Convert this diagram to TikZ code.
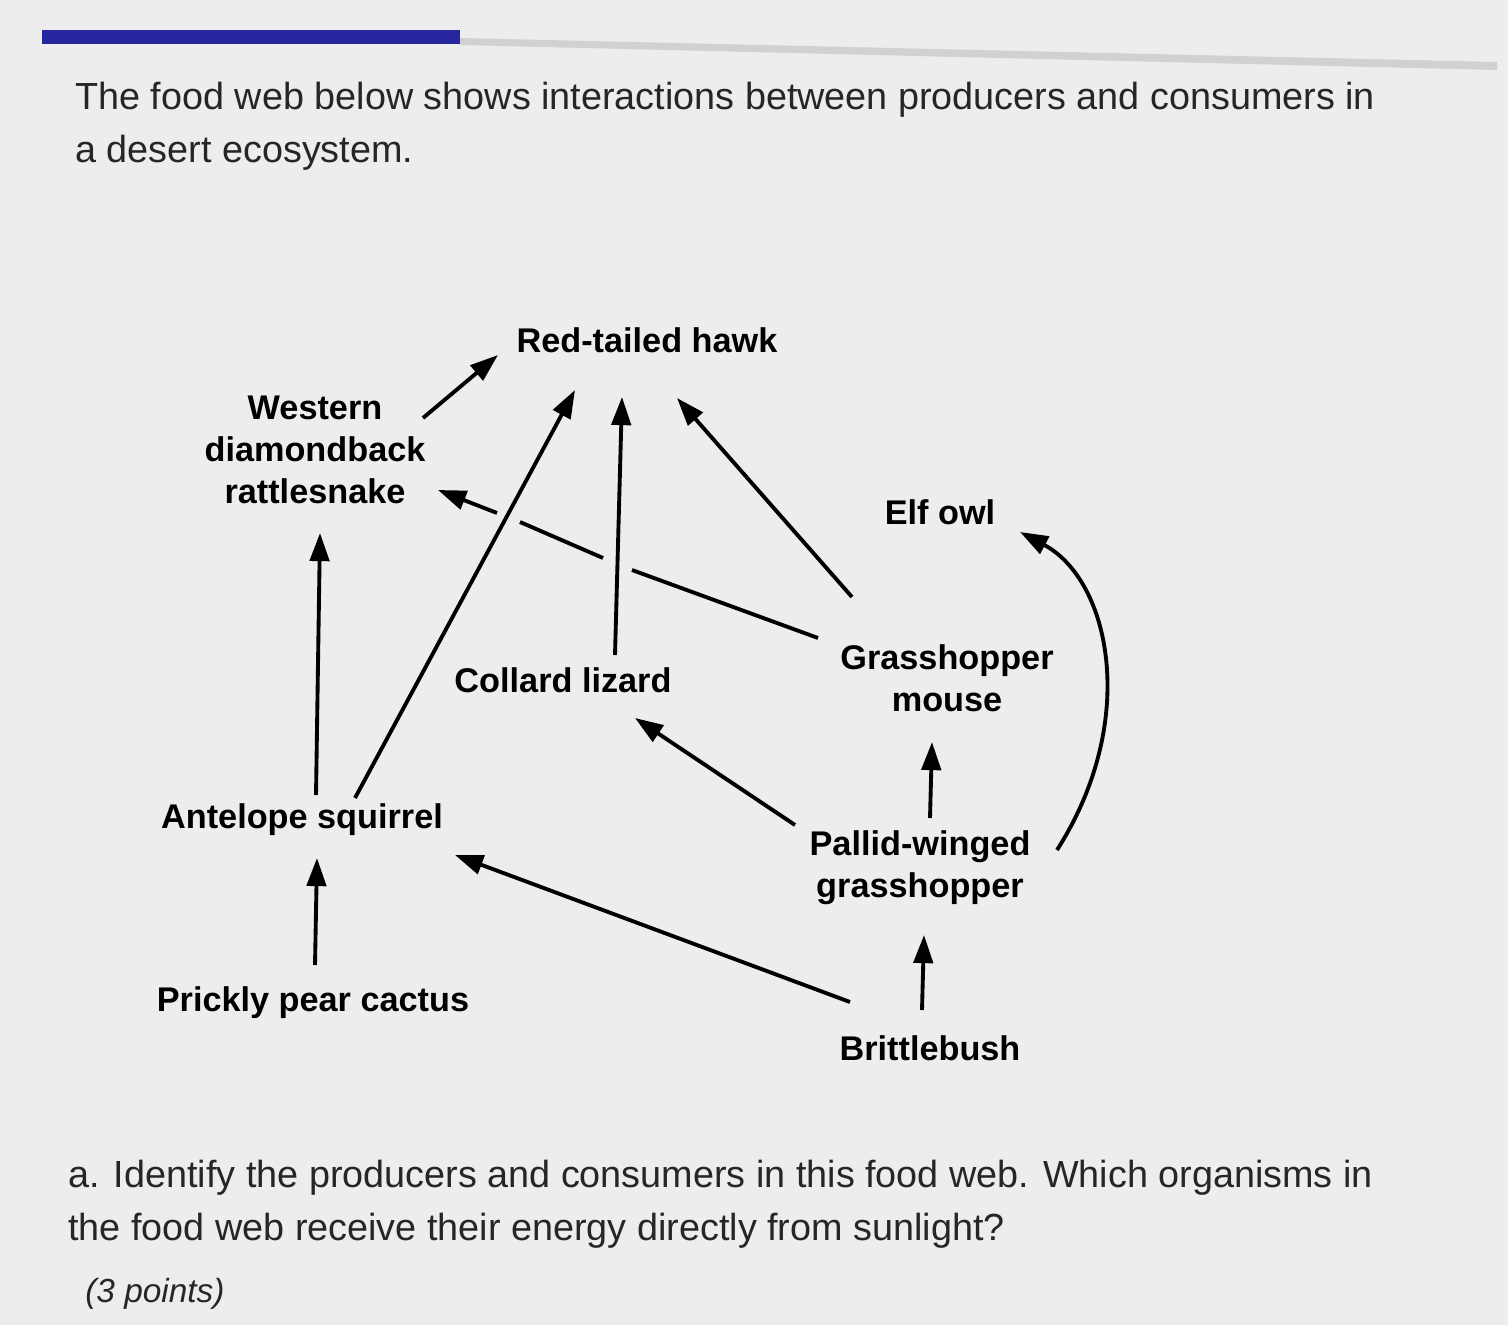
\documentclass[tikz,border=0pt]{standalone}
\usepackage{fontspec}
\setmainfont{Liberation Sans}
\usetikzlibrary{arrows.meta}
\begin{document}
\begin{tikzpicture}[x=0.02cm,y=-0.02cm,
  lbl/.style={font=\fontsize{19.5}{24}\selectfont\bfseries, align=center, inner sep=0pt},
  txt/.style={font=\fontsize{21.5}{30}\selectfont, align=left, anchor=north west, inner sep=0pt, text=black!85},
  arr/.style={-{Triangle[length=16pt,width=11pt]}, line width=2.2pt},
  seg/.style={line width=2.2pt}]
\fill[black!7] (0,0) rectangle (1508,1325);
\useasboundingbox (0,0) rectangle (1508,1325);
\fill[black!18] (460,38) -- (1497,62) -- (1497,70) -- (460,45) -- cycle;
\fill[blue!55!black!85] (42,30) rectangle (460,44);
% texts
\node[txt] (t1) at (75,82) {The food web below shows interactions between producers and consumers in\\a desert ecosystem.};
\node[txt] (t2) at (68,1160) {a. Identify the producers and consumers in this food web. Which organisms in\\the food web receive their energy directly from sunlight?};
\node[txt,font=\fontsize{19}{22}\selectfont\itshape] (t3) at (85,1278) {(3 points)};
% labels
\node[lbl] (hawk) at (647,340) {Red-tailed hawk};
\node[lbl] (snake) at (315,450) {Western\\diamondback\\rattlesnake};
\node[lbl] (owl) at (940,512) {Elf owl};
\node[lbl] (mouse) at (947,678) {Grasshopper\\mouse};
\node[lbl] (lizard) at (563,680) {Collard lizard};
\node[lbl] (squirrel) at (302,820) {Antelope squirrel};
\node[lbl] (pallid) at (920,868) {Pallid-winged\\grasshopper};
\node[lbl] (cactus) at (313,1003) {Prickly pear cactus};
\node[lbl] (brittle) at (930,1048) {Brittlebush};
% arrow end coordinates
\coordinate (a1) at (423,418); \coordinate (b1) at (498,355);
\coordinate (a2) at (355,798); \coordinate (b2) at (575,390);
\coordinate (a3) at (615,655); \coordinate (b3) at (622,397);
\coordinate (a4) at (852,597); \coordinate (b4) at (677,398);
\coordinate (a5) at (818,638); \coordinate (b5) at (438,490);
\coordinate (g1) at (632,570); \coordinate (g2) at (603,558);
\coordinate (g3) at (520,522); \coordinate (g4) at (497,513);
\coordinate (a6) at (1057,850); \coordinate (b6) at (1020,532);
\coordinate (a7) at (930,818); \coordinate (b7) at (932,742);
\coordinate (a8) at (795,825); \coordinate (b8) at (635,718);
\coordinate (a9) at (922,1010); \coordinate (b9) at (924,935);
\coordinate (a10) at (850,1002); \coordinate (b10) at (455,855);
\coordinate (a11) at (315,965); \coordinate (b11) at (317,858);
\coordinate (a12) at (316,795); \coordinate (b12) at (320,533);
\draw[arr] (a1) -- (b1);
\draw[arr] (a2) -- (b2);
\draw[arr] (a3) -- (b3);
\draw[arr] (a4) -- (b4);
\draw[seg] (a5) -- (g1);
\draw[seg] (g2) -- (g3);
\draw[arr] (g4) -- (b5);
\draw[arr] (a6) .. controls (1140,720) and (1110,580) .. (b6);
\draw[arr] (a7) -- (b7);
\draw[arr] (a8) -- (b8);
\draw[arr] (a9) -- (b9);
\draw[arr] (a10) -- (b10);
\draw[arr] (a11) -- (b11);
\draw[arr] (a12) -- (b12);
\end{tikzpicture}
\end{document}
